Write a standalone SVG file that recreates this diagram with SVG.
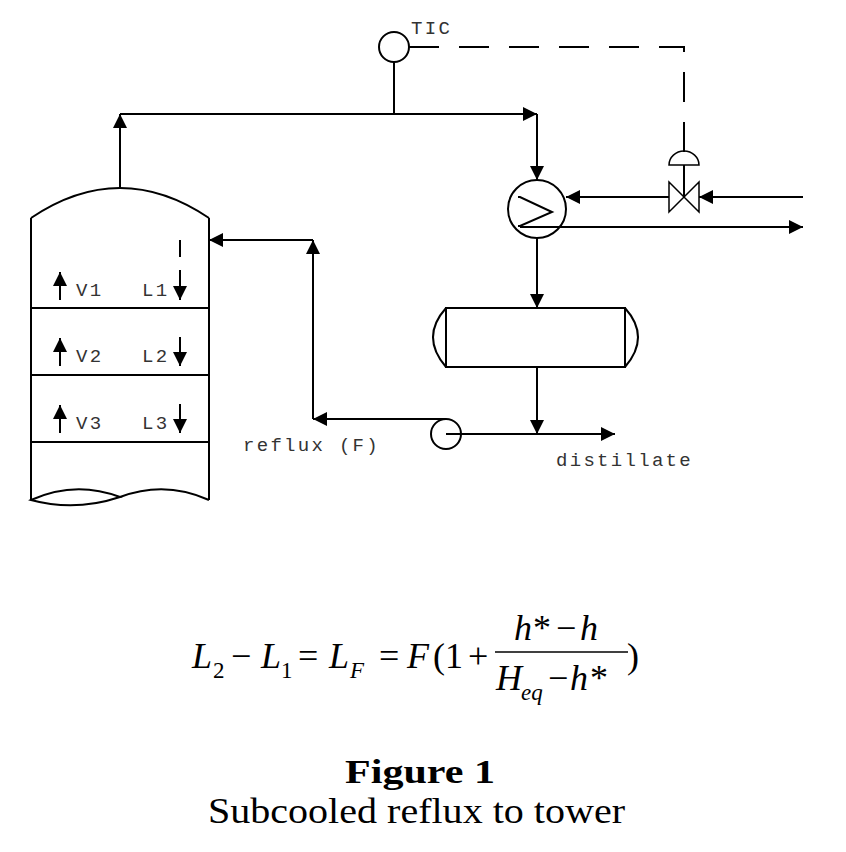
<svg xmlns="http://www.w3.org/2000/svg" width="846" height="852" viewBox="0 0 846 852">
<defs>
<marker id="a" viewBox="0 0 10 10" refX="10" refY="5" markerWidth="16" markerHeight="14" markerUnits="userSpaceOnUse" orient="auto"><path d="M0,0L10,5L0,10z" fill="#000"/></marker>
</defs>
<style>
.l{stroke:#000;stroke-width:2;fill:none}
.t{font-family:"Liberation Mono",monospace;font-size:19px;letter-spacing:2.3px;fill:#333}
.m{font-family:"Liberation Serif",serif;font-size:36px;fill:#000}
.i{font-style:italic}
.s{font-size:23px}
</style>
<rect width="846" height="852" fill="#fff"/>
<g id="column" class="l">
<path d="M31,218 Q120,158 209,218"/>
<path d="M31,218V500M209,218V500"/>
<path d="M31,308H209M31,375H209M31,442H209"/>
<path d="M31,500 Q75,480 120,497 Q75,512 31,500Z"/>
<path d="M120,497 Q165,480 209,500"/>
</g>
<g id="labels" class="t">
<text x="76" y="296">V1</text><text x="142" y="296">L1</text>
<text x="76" y="362">V2</text><text x="142" y="362">L2</text>
<text x="76" y="429">V3</text><text x="142" y="429">L3</text>
<text x="411" y="34">TIC</text>
<text x="243" y="451">reflux (F)</text>
<text x="556" y="466">distillate</text>
</g>
<g id="tic" class="l"><circle cx="394" cy="47" r="15" fill="#fff"/></g>
<g id="exchanger" class="l"><circle cx="537" cy="209" r="29"/><path d="M518,197H520L552,212L520,226H518"/></g>
<g id="valve" class="l"><path d="M669,165 A15,14 0 0 1 699,165 Z" stroke-width="1.5"/><path d="M669,182V212L699,182V212Z" stroke-width="1.5"/></g>
<g id="accumulator" class="l"><rect x="446" y="308" width="179" height="59"/><path d="M446,308 Q420,337 446,367M625,308 Q651,337 625,367"/></g>
<g id="pump" class="l"><circle cx="446" cy="434" r="15"/></g>
<g id="connectors" class="l">
<path d="M120,188V114" marker-end="url(#a)"/>
<path d="M120,114H537" marker-end="url(#a)"/>
<path d="M537,114V180" marker-end="url(#a)"/>
<path d="M394,62V114"/>
<path d="M409,47H684V152" stroke-dasharray="30,20"/>
<path d="M684,165V197"/>
<path d="M803,197H699" marker-end="url(#a)"/>
<path d="M669,197H566" marker-end="url(#a)"/>
<path d="M520,227H803" marker-end="url(#a)"/>
<path d="M537,238V308" marker-end="url(#a)"/>
<path d="M537,367V434" marker-end="url(#a)"/>
<path d="M446,434H615" marker-end="url(#a)"/>
<path d="M446,419H313" marker-end="url(#a)"/>
<path d="M313,419V240" marker-end="url(#a)"/>
<path d="M313,240H209" marker-end="url(#a)"/>
<path d="M180,240V257"/>
<path d="M180,270V300" marker-end="url(#a)"/>
<path d="M180,337V366" marker-end="url(#a)"/>
<path d="M180,404V433" marker-end="url(#a)"/>
<path d="M60,300V272" marker-end="url(#a)"/>
<path d="M60,366V338" marker-end="url(#a)"/>
<path d="M60,433V405" marker-end="url(#a)"/>
</g>
<g id="equation" class="m">
<text x="192" y="668" class="i">L</text><text x="213" y="678" class="s">2</text>
<text x="231" y="668">−</text>
<text x="261" y="668" class="i">L</text><text x="281" y="678" class="s">1</text>
<text x="298" y="668">=</text>
<text x="329" y="668" class="i">L</text><text x="350" y="678" class="s i">F</text>
<text x="379" y="668">=</text>
<text x="407" y="668" class="i">F</text>
<text x="433" y="668">(1</text>
<text x="468" y="668">+</text>
<text x="514" y="640" class="i">h</text><text x="533" y="640">*</text><text x="556" y="640">−</text><text x="580" y="640" class="i">h</text>
<text x="496" y="690" class="i">H</text><text x="521" y="700" class="s i">eq</text>
<text x="548" y="690">−</text><text x="570" y="690" class="i">h</text><text x="590" y="690">*</text>
<text x="627" y="668">)</text>
<path d="M495,652H628" stroke="#000" stroke-width="1.5"/>
</g>
<g id="caption" font-family="Liberation Serif,serif" fill="#000">
<text x="345" y="783" font-size="34" font-weight="bold" textLength="150" lengthAdjust="spacingAndGlyphs">Figure 1</text>
<text x="208" y="823" font-size="35" textLength="417" lengthAdjust="spacingAndGlyphs">Subcooled reflux to tower</text>
</g>
</svg>
